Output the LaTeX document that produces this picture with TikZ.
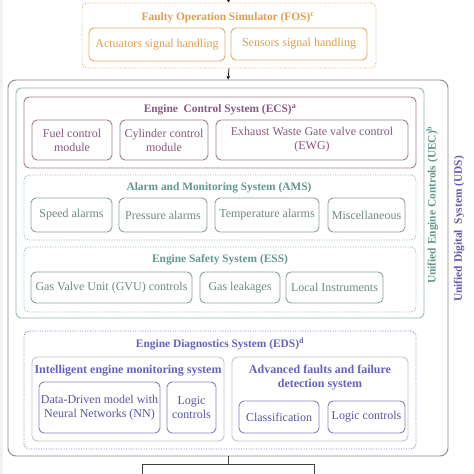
\documentclass[tikz,border=0pt]{standalone}
\usepackage{fontspec}
\setmainfont{Liberation Serif}
\usepackage{xcolor}
\usetikzlibrary{shapes,arrows}

\definecolor{fostext}{RGB}{222,158,78}
\definecolor{fosline}{RGB}{226,172,104}
\definecolor{ecstext}{RGB}{135,88,125}
\definecolor{ecsline}{RGB}{160,125,150}
\definecolor{uectext}{RGB}{98,150,142}
\definecolor{uecline}{RGB}{150,182,176}
\definecolor{boxtext}{RGB}{110,136,134}
\definecolor{boxline}{RGB}{140,158,157}
\definecolor{udsline}{RGB}{135,135,148}
\definecolor{udstext}{RGB}{100,90,178}
\definecolor{edstext}{RGB}{102,96,190}
\definecolor{edsline}{RGB}{130,126,186}
\definecolor{edsbox}{RGB}{132,128,178}
\definecolor{edsin}{RGB}{88,84,160}
\definecolor{subline}{RGB}{196,196,206}

\begin{document}
\begin{tikzpicture}[x=1pt,y=-1pt,
	frame/.style={rounded corners=5pt, line width=0.9pt, inner sep=0pt},
	dotframe/.style={frame, dash pattern=on 1pt off 1.5pt},
	box/.style={draw, rounded corners=5pt, line width=0.9pt, inner sep=1pt, align=center, font=\fontsize{12}{14}\selectfont},
	title/.style={font=\fontsize{11.4}{13}\selectfont\bfseries, align=center},
	bigtitle/.style={font=\fontsize{12}{14}\selectfont\bfseries, align=center}]
	\useasboundingbox (0,0) rectangle (474,474);
	\fill[gray!10] (0,0) rectangle (3,474);

	% simulator
	\node[dotframe, draw=fosline, minimum width=294pt, minimum height=65pt] (fos) at (229,35.5) {};
	\node[title, text=fostext] (fostitle) at (228,18) {Faulty Operation Simulator (FOS)\textsuperscript{c}};
	\node[box, draw=fosline, text=fostext, minimum width=136pt, minimum height=33pt] (act) at (157,44.5) {Actuators signal handling};
	\node[box, draw=fosline, text=fostext, minimum width=136pt, minimum height=32pt] (sens) at (299,44) {Sensors signal handling};

	% digital system
	\node[frame, draw=udsline, rounded corners=8pt, minimum width=440pt, minimum height=376pt] (uds) at (228,268) {};
	\node[frame, draw=uecline, minimum width=408pt, minimum height=230pt] (uec) at (220,203) {};
	\node[title, text=udstext, rotate=90] (udslabel) at (459,229) {Unified Digital~ System (UDS)};
	\node[title, text=uectext, rotate=90] (ueclabel) at (432,205) {Unified Engine Controls (UEC)\textsuperscript{b}};

	% control system
	\node[frame, draw=ecsline, minimum width=392pt, minimum height=71pt] (ecs) at (220,132.5) {};
	\node[title, text=ecstext] (ecstitle) at (220,110) {Engine~ Control System (ECS)\textsuperscript{a}};
	\node[box, draw=ecsline, text=ecstext, minimum width=80pt, minimum height=40pt] (fuel) at (72,140) {Fuel control\\module};
	\node[box, draw=ecsline, text=ecstext, minimum width=88pt, minimum height=40pt] (cyl) at (164,140) {Cylinder control\\module};
	\node[box, draw=ecsline, text=ecstext, minimum width=192pt, minimum height=40pt] (ewg) at (312,140) {Exhaust Waste Gate valve control\\(EWG)};

	% alarms
	\node[dotframe, draw=uecline, minimum width=392pt, minimum height=65pt] (ams) at (220,207.5) {};
	\node[title, text=uectext] (amstitle) at (219,188) {Alarm and Monitoring System (AMS)};
	\node[box, draw=boxline, text=boxtext, minimum width=81pt, minimum height=34pt] (speed) at (71.5,215) {Speed alarms};
	\node[box, draw=boxline, text=boxtext, minimum width=88pt, minimum height=34pt] (press) at (163,215) {Pressure alarms};
	\node[box, draw=boxline, text=boxtext, minimum width=104pt, minimum height=34pt] (temp) at (267,215) {Temperature alarms};
	\node[box, draw=boxline, text=boxtext, minimum width=77pt, minimum height=34pt] (misc) at (366.5,215) {Miscellaneous};

	% safety
	\node[dotframe, draw=uecline, minimum width=392pt, minimum height=65pt] (ess) at (220,279.5) {};
	\node[title, text=uectext] (esstitle) at (220,260) {Engine Safety System (ESS)};
	\node[box, draw=boxline, text=boxtext, minimum width=161pt, minimum height=31pt] (gvu) at (111.5,287.5) {Gas Valve Unit (GVU) controls};
	\node[box, draw=boxline, text=boxtext, minimum width=80pt, minimum height=31pt] (leak) at (240,287.5) {Gas leakages};
	\node[box, draw=boxline, text=boxtext, minimum width=97pt, minimum height=31pt] (local) at (334.5,287.5) {Local Instruments};

	% diagnostics
	\node[dotframe, draw=edsline, minimum width=392pt, minimum height=118pt] (eds) at (220,390) {};
	\node[title, text=edstext] (edstitle) at (220,344) {Engine Diagnostics System (EDS)\textsuperscript{d}};
	\node[frame, draw=subline, minimum width=192pt, minimum height=84pt] (iems) at (128,399) {};
	\node[bigtitle, text=edstext] (iemstitle) at (128,371) {Intelligent engine monitoring system};
	\node[box, draw=edsbox, text=edsin, inner sep=0pt, minimum width=121pt, minimum height=51pt] (nn) at (99.5,407.5) {Data-Driven model with\\Neural Networks (NN)};
	\node[box, draw=edsbox, text=edsin, inner sep=0pt, minimum width=49pt, minimum height=51pt] (logic) at (191.5,407.5) {Logic\\controls};
	\node[frame, draw=subline, minimum width=176pt, minimum height=84pt] (aff) at (320,399) {};
	\node[bigtitle, text=edstext] (afftitle) at (320,378) {Advanced faults and failure\\detection system};
	\node[box, draw=edsbox, text=edsin, minimum width=80pt, minimum height=32pt] (class) at (279,417) {Classification};
	\node[box, draw=edsbox, text=edsin, inner sep=0pt, minimum width=77pt, minimum height=32pt] (logictwo) at (366.5,417) {Logic controls};

	% connectors
	\coordinate (in) at (228,-2);
	\coordinate (split) at (228,464);
	\coordinate (outl) at (142,464);
	\coordinate (outr) at (314,464);
	\coordinate (downl) at (142,476);
	\coordinate (downr) at (314,476);
	\draw[-stealth, line width=0.7pt] (in) -- (fos.north);
	\draw[-stealth, line width=0.7pt] (fos.south) -- (uds.north);
	\draw[line width=0.8pt, black!75] (uds.south) -- (split);
	\draw[line width=0.8pt, black!75] (downl) -- (outl) -- (outr) -- (downr);
\end{tikzpicture}
\end{document}
